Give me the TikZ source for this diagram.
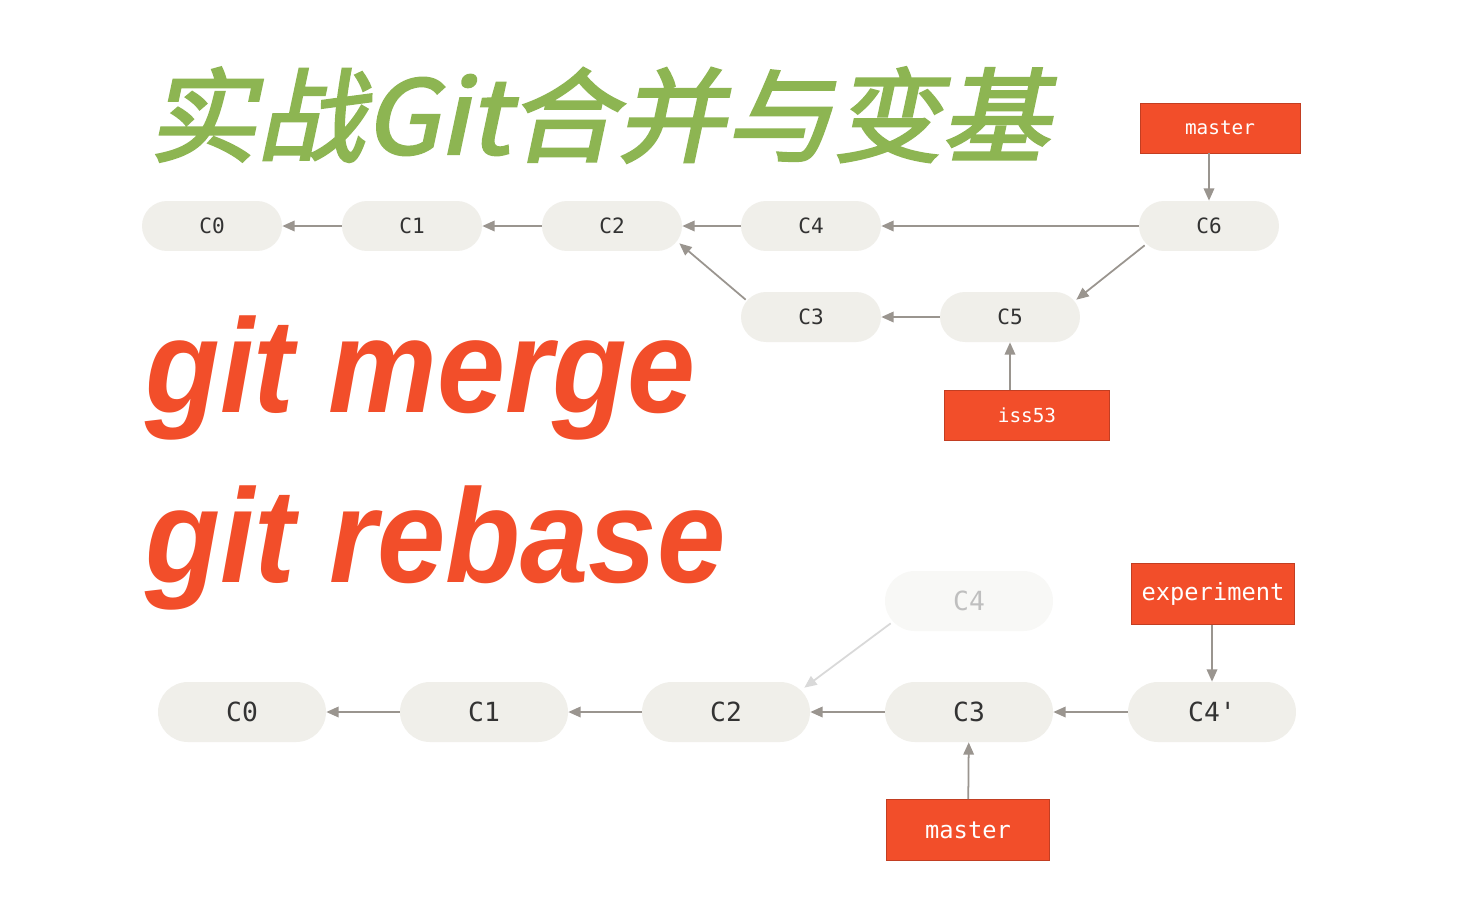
\documentclass[tikz,border=0pt]{standalone}
\usepackage{fontspec}
\setmonofont{DejaVu Sans Mono}
\newfontfamily\cjk{Noto Sans CJK SC}[FakeSlant=0.2,FakeBold=2.5]
\newfontfamily\headfont{Liberation Sans}
\usetikzlibrary{arrows.meta}
\definecolor{gitred}{HTML}{F24E2A}
\definecolor{titlegreen}{HTML}{8DB552}
\definecolor{pillfill}{HTML}{F0EFEA}
\definecolor{arrowgray}{HTML}{9A958F}
\tikzset{
  commit/.style={fill=pillfill, rounded corners=0.5cm, minimum width=2.8cm, minimum height=1cm, font=\ttfamily\fontsize{12}{12}\selectfont, text=black!80},
  bigcommit/.style={commit, rounded corners=0.6cm, minimum width=3.36cm, minimum height=1.2cm, font=\ttfamily\fontsize{15}{15}\selectfont},
  branch/.style={fill=gitred, draw=gitred!80!black, minimum width=3.2cm, minimum height=1cm, text=white, font=\ttfamily\fontsize{11}{11}\selectfont},
  bigbranch/.style={branch, minimum width=3.25cm, minimum height=1.22cm, font=\ttfamily\fontsize{13.5}{13.5}\selectfont},
  link/.style={draw=arrowgray, line width=1pt, -{Triangle[length=7pt,width=6pt]}},
}
\begin{document}
\begin{tikzpicture}[x=0.02cm, y=-0.02cm]
    \useasboundingbox[fill=white] (0,0) rectangle (1478,923);

    % titles
    \node[anchor=west, text=titlegreen, inner sep=0] (title) at (148,115)
        {\scalebox{1.06}[1]{\cjk\fontsize{58}{58}\selectfont 实战Git合并与变基}};
    \node[anchor=base west, text=gitred, inner sep=0] (merge) at (145,412)
        {\scalebox{0.915}[1]{\headfont\bfseries\itshape\fontsize{76}{76}\selectfont git merge}};
    \node[anchor=base west, text=gitred, inner sep=0] (rebase) at (145,582)
        {\scalebox{0.92}[1]{\headfont\bfseries\itshape\fontsize{76}{76}\selectfont git rebase}};

    % merge graph
    \node[commit] (m0) at (212,226) {C0};
    \node[commit] (m1) at (412,226) {C1};
    \node[commit] (m2) at (612,226) {C2};
    \node[commit] (m4) at (811,226) {C4};
    \node[commit] (m6) at (1209,226) {C6};
    \node[commit] (m3) at (811,317) {C3};
    \node[commit] (m5) at (1010,317) {C5};
    \node[branch] (mmaster) at (1220,128) {master};
    \node[branch, minimum width=3.3cm] (miss) at (1027,415) {iss53};

    \draw[link] (m1) -- (m0);
    \draw[link] (m2) -- (m1);
    \draw[link] (m4) -- (m2);
    \draw[link] (m6) -- (m4);
    \draw[link] ([shift={(6,-6)}]m6.south west) -- ([shift={(-4,8)}]m5.north east);
    \draw[link] (m5) -- (m3);
    \draw[link] ([shift={(5,8)}]m3.north west) -- ([shift={(-3,-8)}]m2.south east);
    \draw[link] (mmaster.south -| m6) -- (m6);
    \draw[link] (miss.north -| m5) -- (m5);

    % rebase graph
    \node[bigcommit] (r0) at (242,712) {C0};
    \node[bigcommit] (r1) at (484,712) {C1};
    \node[bigcommit] (r2) at (726,712) {C2};
    \node[bigcommit] (r3) at (969,712) {C3};
    \node[bigcommit] (r4p) at (1212,712) {C4'};
    \node[bigcommit, fill=pillfill!45, text=black!25] (r4) at (969,601) {C4};
    \node[bigbranch] (rexp) at (1213,594) {experiment};
    \node[bigbranch] (rmaster) at (968,830) {master};

    \draw[link] (r1) -- (r0);
    \draw[link] (r2) -- (r1);
    \draw[link] (r3) -- (r2);
    \draw[link] (r4p) -- (r3);
    \draw[link, draw=black!15] ([shift={(6,-8)}]r4.south west) -- ([shift={(-6,6)}]r2.north east);
    \draw[link] (rexp.south -| r4p) -- (r4p);
    \draw[link] (rmaster) -- (r3);
\end{tikzpicture}
\end{document}
